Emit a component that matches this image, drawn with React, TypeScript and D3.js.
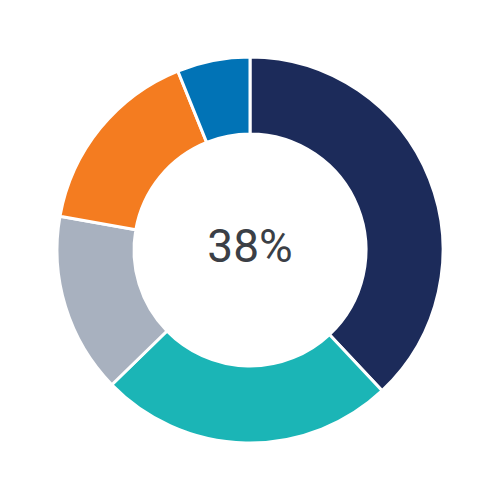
import React, { useEffect, useRef } from 'react';
import * as d3 from 'd3';

const categories = ['A', 'B', 'C', 'D', 'E'];
const values = [38, 24.7, 15.1, 16.1, 6.1];
const colors = ['#1c2b5a', '#1bb5b6', '#a8b1bf', '#f47c20', '#0173b6'];
const centerLabel = '38%';

const App: React.FC = () => {
  const svgRef = useRef<SVGSVGElement>(null);

  useEffect(() => {
    if (!svgRef.current) return;
    const width = 500;
    const height = 500;
    const outer = 193;
    const inner = 116;

    const svg = d3.select(svgRef.current);
    svg.selectAll('*').remove();

    const g = svg.append('g').attr('transform', `translate(${width / 2},${height / 2})`);

    const pie = d3.pie<number>().sort(null).value(d => d);
    const arc = d3.arc<d3.PieArcDatum<number>>().innerRadius(inner).outerRadius(outer);

    g.selectAll('path')
      .data(pie(values))
      .join('path')
      .attr('d', arc)
      .attr('fill', (_, i) => colors[i])
      .attr('stroke', '#fff')
      .attr('stroke-width', 3)
      .append('title')
      .text((d, i) => `${categories[i]}: ${d.data}%`);

    g.append('text')
      .attr('text-anchor', 'middle')
      .attr('y', 12)
      .attr('font-family', 'Roboto, "Liberation Sans", sans-serif')
      .attr('font-size', 46)
      .attr('fill', '#3b3f46')
      .text(centerLabel);
  }, []);

  return (
    <svg
      ref={svgRef}
      width={500}
      height={500}
      style={{ position: 'absolute', top: 0, left: 0, background: '#fff' }}
    />
  );
};

export default App;
